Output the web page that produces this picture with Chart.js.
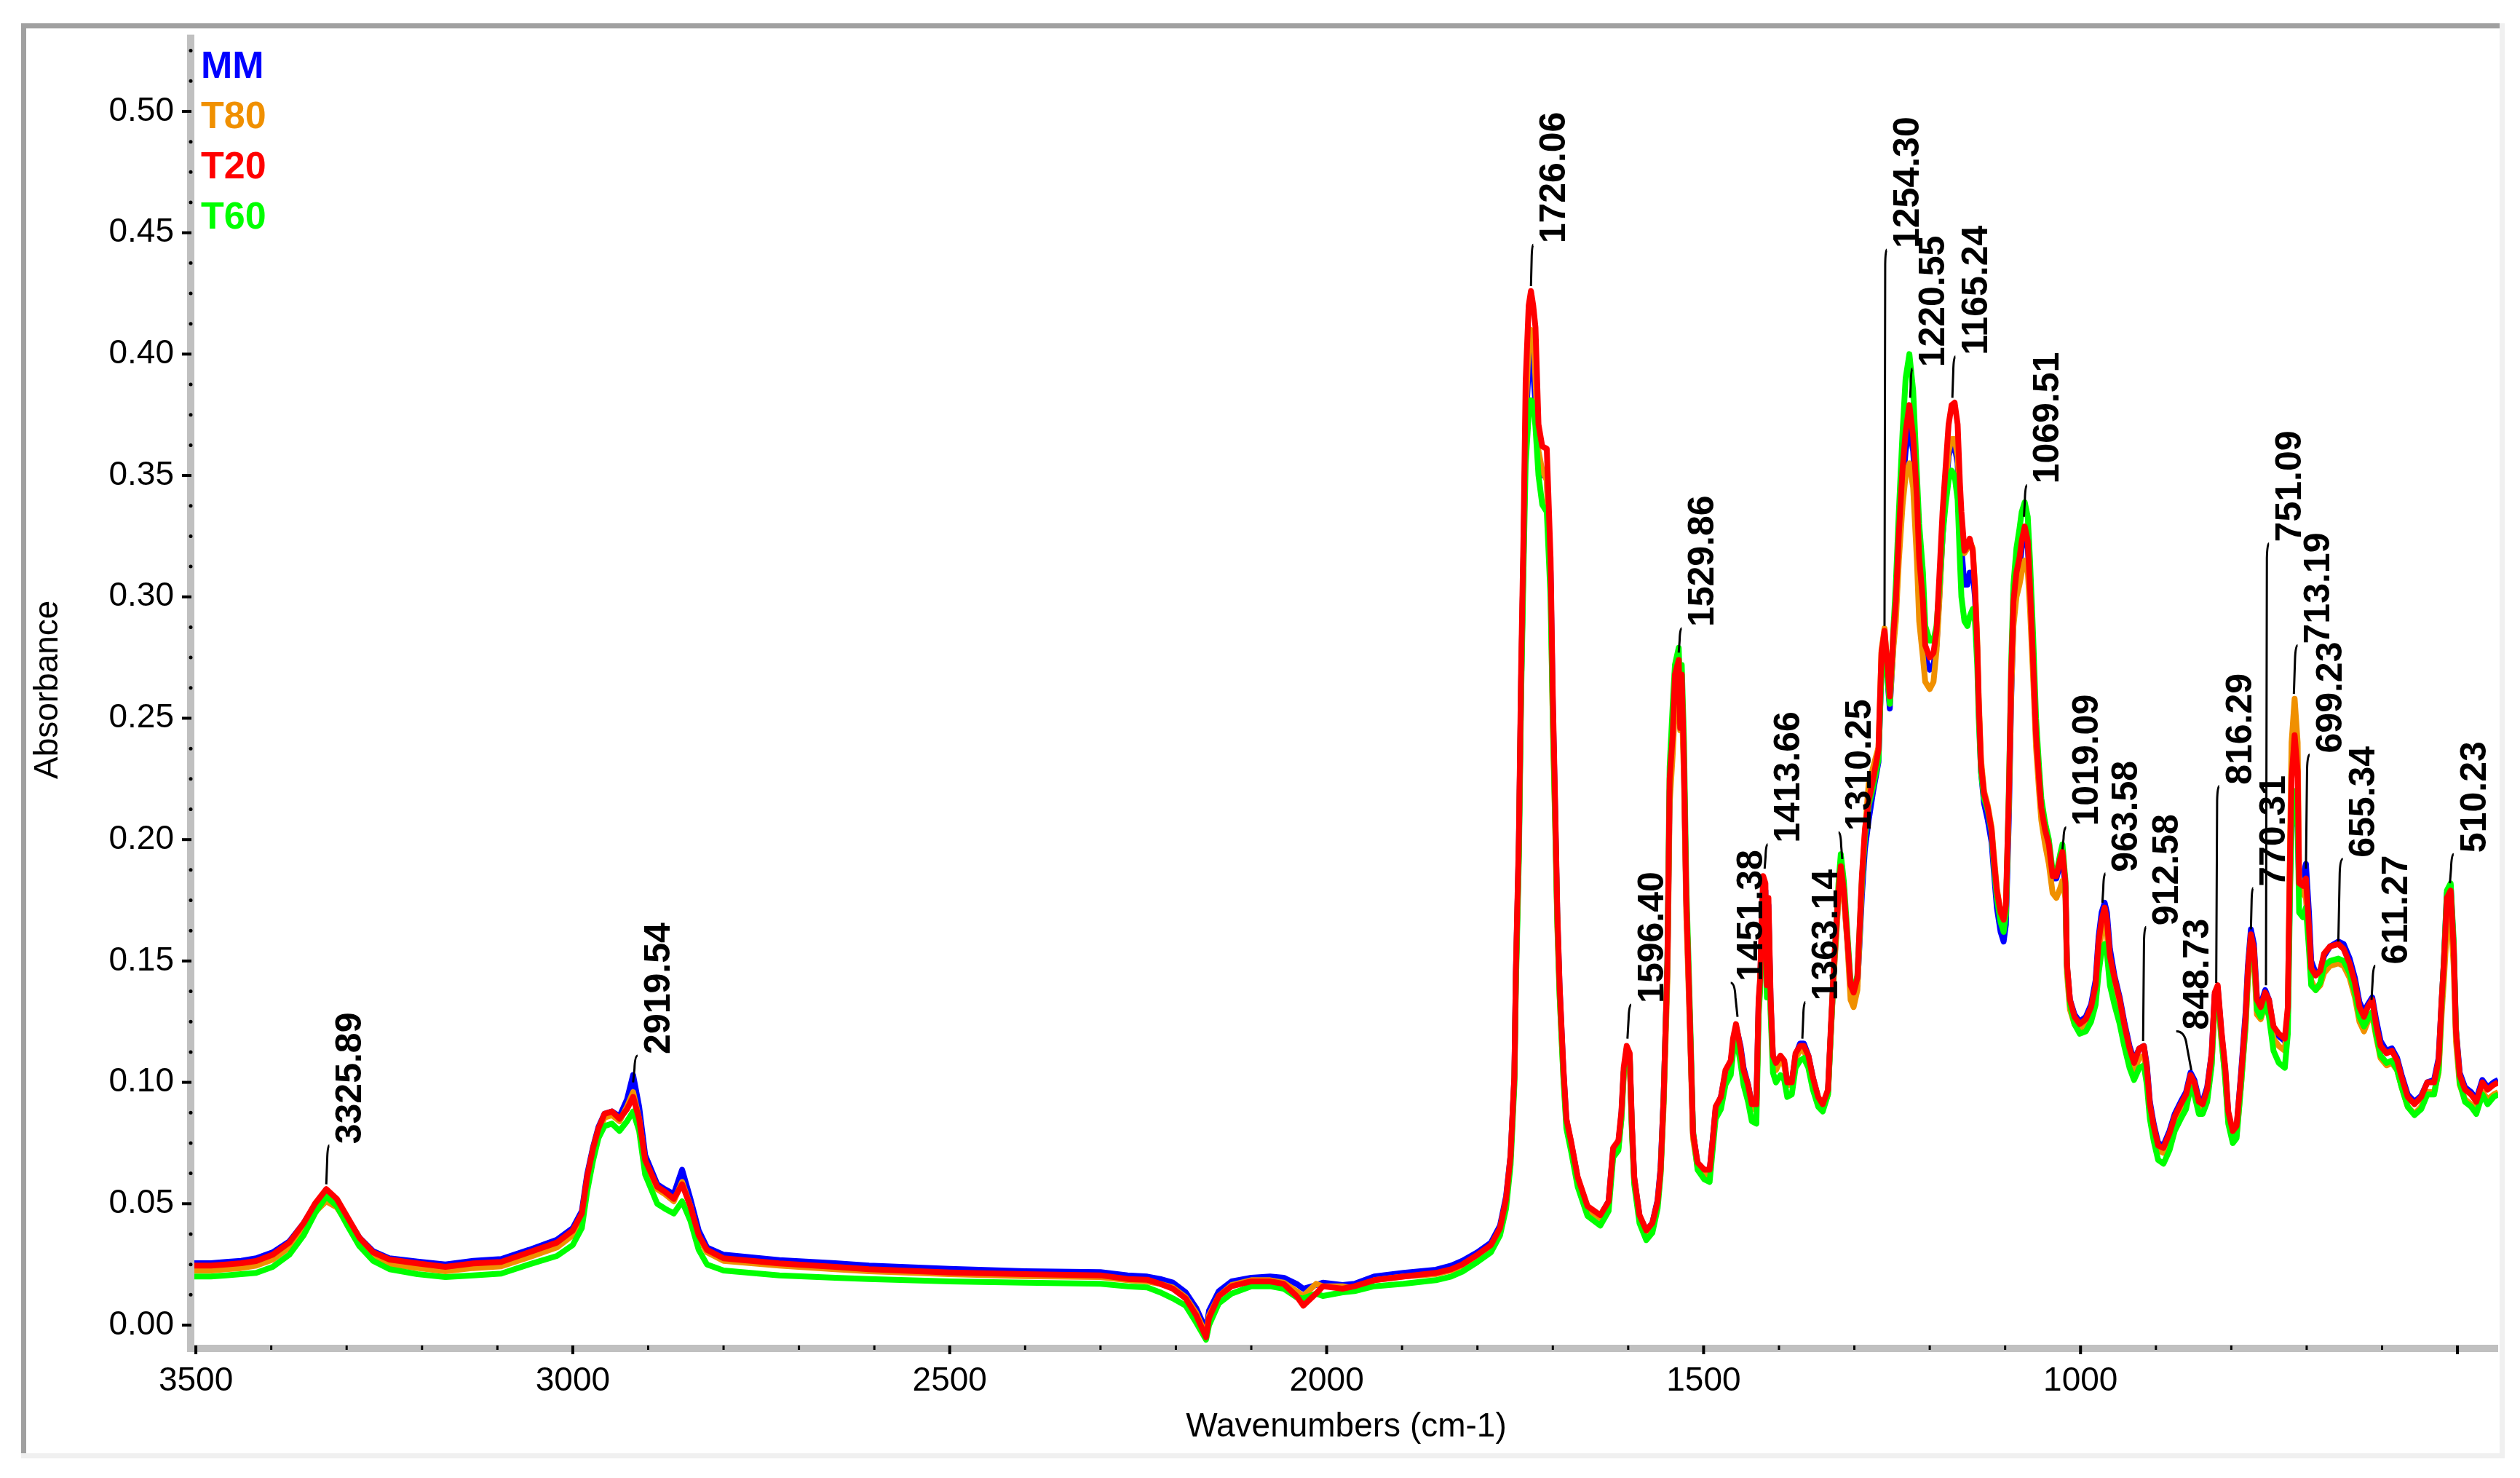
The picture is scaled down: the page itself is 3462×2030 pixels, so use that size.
<!DOCTYPE html>
<html>
<head>
<meta charset="utf-8">
<title>FTIR spectra</title>
<script src="https://cdn.jsdelivr.net/npm/chart.js@4.4.1/dist/chart.umd.min.js"></script>
<style>
  html, body { margin: 0; padding: 0; background: #fff; }
  #wrap { width: 3462px; height: 2030px; }
</style>
</head>
<body>
<div id="wrap"><canvas id="ftir_chart" width="3462" height="2030"></canvas></div>
<script>
// wavenumbers (cm-1), shared by all four spectra
const wavenumbers = [
  3502,3480,3460,3440,3420,3398,3376,3357,3342,3327,
  3313,3298,3283,3265,3243,3206,3169,3132,3095,3058,
  3021,3000,2988,2981,2973,2966,2958,2948,2938,2928,
  2920,2912,2904,2888,2878,2866,2855,2844,2833,2822,
  2800,2726,2652,2607,2500,2400,2300,2264,2238,2221,
  2204,2187,2173,2160,2156,2143,2126,2100,2075,2057,
  2040,2031,2014,2005,1979,1963,1937,1898,1855,1835,
  1820,1800,1782,1770,1762,1756,1751,1749,1745,1742,
  1739,1736,1732,1729,1726,1723,1719,1714,1708,1703,
  1700,1697,1694,1691,1686,1682,1676,1667,1654,1637,
  1626,1620,1613,1609,1606,1602,1598,1595,1592,1585,
  1576,1568,1561,1557,1553,1548,1545,1541,1538,1533,
  1531,1529,1526,1523,1518,1514,1508,1499,1492,1488,
  1484,1477,1471,1464,1461,1457,1451,1447,1441,1436,
  1430,1427,1425,1421,1418,1416,1414,1411,1408,1404,
  1398,1393,1389,1383,1378,1372,1367,1361,1355,1348,
  1342,1335,1331,1327,1324,1321,1318,1314,1309,1305,
  1301,1296,1293,1290,1286,1281,1275,1268,1264,1260,
  1256,1253,1248,1245,1241,1236,1232,1227,1222,1217,
  1214,1209,1206,1200,1195,1191,1187,1183,1179,1175,
  1171,1167,1163,1160,1158,1154,1150,1147,1143,1140,
  1137,1135,1132,1128,1123,1118,1115,1111,1106,1102,
  1099,1095,1092,1089,1085,1081,1078,1074,1070,1067,
  1063,1059,1055,1052,1047,1042,1037,1032,1027,1024,
  1020,1018,1014,1008,1001,993,986,980,976,972,
  968,965,961,955,948,942,935,929,922,916,
  912,908,903,897,890,882,875,867,860,854,
  849,843,838,832,826,822,818,813,808,804,
  798,793,787,781,778,774,770,766,761,755,
  750,744,737,729,725,722,720,716,712,710,
  705,701,697,694,688,682,677,669,658,651,
  643,636,630,624,619,613,608,602,594,587,
  580,574,566,557,548,540,531,525,521,518,
  514,509,505,502,497,490,482,475,467,460,
  452,446
];

const mmValues = [
  .0255,.0255,.0260,.0265,.0275,.0300,.0345,.0420,.0495,.0550,
  .0515,.0435,.0360,.0305,.0275,.0262,.0250,.0265,.0272,.0310,
  .0352,.0400,.0470,.0620,.0735,.0815,.0870,.0880,.0860,.0930,
  .1030,.0900,.0700,.0580,.0560,.0540,.0640,.0520,.0390,.0320,
  .0290,.0268,.0255,.0245,.0232,.0222,.0218,.0205,.0200,.0190,
  .0175,.0135,.0070,-.0020,.0060,.0140,.0180,.0195,.0200,.0195,
  .0170,.0150,.0165,.0175,.0165,.0170,.0200,.0215,.0228,.0245,
  .0265,.0300,.0340,.0410,.0530,.0700,.1020,.1440,.1980,.2650,
  .3150,.3700,.3950,.4000,.3920,.3800,.3550,.3500,.3500,.3100,
  .2550,.2130,.1680,.1390,.1050,.0845,.0755,.0605,.0485,.0450,
  .0510,.0720,.0750,.0870,.1040,.1130,.1100,.0810,.0605,.0450,
  .0390,.0420,.0515,.0650,.0940,.1470,.2200,.2400,.2620,.2700,
  .2500,.2620,.2300,.1750,.1230,.0790,.0665,.0635,.0635,.0760,
  .0890,.0940,.1040,.1080,.1160,.1230,.1150,.1060,.0990,.0910,
  .0905,.1320,.1410,.1820,.1790,.1380,.1730,.1320,.1100,.1070,
  .1100,.1080,.1000,.1000,.1110,.1160,.1160,.1110,.1020,.0935,
  .0905,.0960,.1220,.1470,.1620,.1770,.1870,.1780,.1570,.1390,
  .1360,.1400,.1580,.1770,.1960,.2080,.2200,.2320,.2720,.2800,
  .2660,.2540,.2820,.2940,.3200,.3450,.3600,.3700,.3600,.3350,
  .3100,.2920,.2750,.2700,.2720,.2800,.3020,.3250,.3420,.3580,
  .3620,.3620,.3550,.3320,.3200,.3050,.3050,.3100,.3100,.3000,
  .2780,.2540,.2280,.2150,.2080,.1990,.1870,.1720,.1620,.1580,
  .1650,.2100,.2580,.2900,.3050,.3120,.3200,.3260,.3210,.3020,
  .2720,.2420,.2250,.2130,.2030,.1960,.1840,.1840,.1900,.1930,
  .1800,.1480,.1340,.1280,.1250,.1270,.1320,.1420,.1600,.1700,
  .1740,.1700,.1550,.1440,.1350,.1250,.1150,.1090,.1140,.1150,
  .1070,.0920,.0830,.0750,.0740,.0800,.0870,.0920,.0960,.1040,
  .1010,.0930,.0920,.0980,.1120,.1360,.1390,.1200,.1050,.0870,
  .0790,.0810,.1040,.1290,.1480,.1630,.1570,.1350,.1320,.1380,
  .1340,.1220,.1190,.1170,.1280,.1850,.2100,.2150,.2050,.1800,
  .1850,.1900,.1700,.1500,.1450,.1460,.1520,.1560,.1580,.1570,
  .1510,.1430,.1330,.1290,.1320,.1350,.1260,.1170,.1130,.1140,
  .1100,.1030,.0950,.0920,.0945,.1000,.1010,.1100,.1330,.1500,
  .1780,.1810,.1560,.1220,.1040,.0980,.0960,.0930,.1010,.0980,
  .1000,.1010
];

const t80Values = [
  .0225,.0225,.0230,.0235,.0245,.0270,.0320,.0390,.0465,.0510,
  .0485,.0415,.0340,.0280,.0250,.0235,.0222,.0235,.0242,.0280,
  .0320,.0370,.0440,.0590,.0710,.0795,.0855,.0865,.0840,.0900,
  .0960,.0850,.0670,.0560,.0540,.0510,.0590,.0490,.0360,.0300,
  .0265,.0245,.0230,.0222,.0210,.0202,.0198,.0185,.0180,.0170,
  .0155,.0115,.0050,-.0040,.0040,.0120,.0165,.0185,.0185,.0175,
  .0140,.0120,.0170,.0160,.0160,.0150,.0185,.0200,.0210,.0225,
  .0245,.0285,.0325,.0395,.0510,.0690,.1010,.1430,.1970,.2650,
  .3150,.3750,.4050,.4100,.4080,.3900,.3600,.3520,.3480,.3050,
  .2480,.2080,.1640,.1360,.1030,.0830,.0745,.0595,.0478,.0440,
  .0500,.0700,.0730,.0850,.1020,.1120,.1090,.0800,.0595,.0440,
  .0380,.0410,.0500,.0630,.0900,.1420,.2150,.2350,.2550,.2620,
  .2450,.2580,.2250,.1700,.1200,.0770,.0650,.0620,.0620,.0740,
  .0880,.0920,.1030,.1070,.1150,.1210,.1120,.1030,.0970,.0890,
  .0890,.1300,.1400,.1800,.1770,.1370,.1710,.1300,.1080,.1050,
  .1090,.1070,.0990,.0990,.1100,.1130,.1130,.1090,.1000,.0920,
  .0890,.0950,.1210,.1460,.1600,.1760,.1860,.1770,.1560,.1340,
  .1310,.1380,.1600,.1820,.2030,.2230,.2300,.2380,.2780,.2870,
  .2700,.2560,.2800,.2900,.3150,.3380,.3500,.3550,.3450,.3150,
  .2900,.2750,.2650,.2620,.2650,.2780,.3000,.3250,.3450,.3600,
  .3650,.3650,.3580,.3400,.3300,.3180,.3200,.3230,.3200,.3050,
  .2820,.2580,.2330,.2200,.2140,.2050,.1940,.1800,.1700,.1650,
  .1700,.2150,.2600,.2880,.3000,.3050,.3100,.3150,.3110,.2950,
  .2680,.2380,.2200,.2080,.1980,.1900,.1780,.1760,.1800,.1830,
  .1760,.1450,.1300,.1240,.1210,.1230,.1280,.1370,.1530,.1620,
  .1650,.1610,.1470,.1380,.1300,.1200,.1100,.1050,.1100,.1110,
  .1030,.0890,.0800,.0720,.0710,.0770,.0840,.0890,.0920,.1000,
  .0970,.0880,.0880,.0940,.1080,.1330,.1360,.1170,.1020,.0840,
  .0760,.0780,.0990,.1230,.1420,.1560,.1500,.1280,.1260,.1320,
  .1280,.1180,.1150,.1130,.1300,.2000,.2400,.2580,.2400,.1850,
  .1780,.1760,.1580,.1420,.1380,.1400,.1450,.1480,.1490,.1480,
  .1430,.1350,.1250,.1210,.1250,.1280,.1190,.1100,.1070,.1080,
  .1050,.0980,.0900,.0870,.0900,.0960,.0960,.1040,.1280,.1420,
  .1640,.1680,.1480,.1170,.0990,.0930,.0910,.0890,.0960,.0930,
  .0950,.0960
];

const t20Values = [
  .0245,.0245,.0250,.0255,.0264,.0290,.0340,.0420,.0500,.0560,
  .0520,.0440,.0360,.0300,.0270,.0254,.0240,.0254,.0260,.0300,
  .0340,.0390,.0460,.0610,.0730,.0810,.0870,.0880,.0850,.0890,
  .0940,.0850,.0680,.0570,.0550,.0520,.0580,.0490,.0370,.0310,
  .0275,.0254,.0240,.0230,.0217,.0210,.0205,.0190,.0187,.0170,
  .0150,.0110,.0040,-.0050,.0030,.0120,.0160,.0180,.0180,.0170,
  .0120,.0080,.0130,.0160,.0150,.0160,.0185,.0200,.0215,.0230,
  .0250,.0290,.0330,.0400,.0520,.0700,.1030,.1460,.2010,.2710,
  .3230,.3890,.4200,.4260,.4200,.4110,.3710,.3620,.3610,.3160,
  .2590,.2160,.1700,.1400,.1060,.0850,.0760,.0610,.0490,.0453,
  .0510,.0730,.0760,.0880,.1060,.1150,.1120,.0820,.0610,.0453,
  .0390,.0420,.0510,.0640,.0940,.1490,.2250,.2430,.2680,.2740,
  .2460,.2680,.2310,.1760,.1240,.0790,.0670,.0640,.0640,.0760,
  .0900,.0940,.1050,.1090,.1180,.1240,.1140,.1050,.0990,.0910,
  .0910,.1340,.1430,.1850,.1820,.1400,.1760,.1340,.1110,.1080,
  .1110,.1090,.1000,.1000,.1120,.1150,.1150,.1110,.1020,.0940,
  .0910,.0970,.1240,.1490,.1640,.1790,.1890,.1790,.1580,.1400,
  .1370,.1430,.1640,.1850,.2040,.2160,.2250,.2370,.2770,.2860,
  .2710,.2590,.2860,.2980,.3260,.3530,.3680,.3790,.3660,.3410,
  .3160,.2980,.2800,.2750,.2770,.2860,.3100,.3350,.3530,.3710,
  .3790,.3800,.3710,.3470,.3350,.3190,.3210,.3240,.3190,.3040,
  .2800,.2560,.2310,.2190,.2130,.2040,.1920,.1790,.1700,.1670,
  .1730,.2190,.2680,.2980,.3100,.3160,.3230,.3290,.3230,.3040,
  .2740,.2430,.2250,.2130,.2040,.1980,.1850,.1850,.1920,.1950,
  .1820,.1490,.1340,.1270,.1240,.1260,.1310,.1400,.1580,.1670,
  .1720,.1670,.1520,.1430,.1340,.1240,.1140,.1080,.1140,.1150,
  .1060,.0910,.0820,.0740,.0730,.0790,.0860,.0910,.0950,.1030,
  .1000,.0920,.0910,.0970,.1120,.1370,.1400,.1210,.1060,.0880,
  .0800,.0820,.1030,.1270,.1460,.1610,.1550,.1340,.1310,.1370,
  .1340,.1230,.1200,.1180,.1310,.1950,.2250,.2430,.2280,.1820,
  .1810,.1840,.1640,.1470,.1440,.1460,.1530,.1560,.1570,.1550,
  .1490,.1410,.1310,.1270,.1310,.1340,.1240,.1150,.1120,.1130,
  .1090,.1020,.0940,.0910,.0940,.1000,.1000,.1090,.1340,.1490,
  .1760,.1790,.1550,.1210,.1030,.0970,.0950,.0920,.1000,.0970,
  .0990,.1000
];

const t60Values = [
  .0200,.0200,.0205,.0210,.0215,.0240,.0290,.0370,.0460,.0530,
  .0490,.0405,.0325,.0265,.0230,.0210,.0198,.0205,.0212,.0250,
  .0285,.0330,.0400,.0550,.0680,.0770,.0820,.0830,.0800,.0840,
  .0880,.0800,.0620,.0500,.0480,.0460,.0510,.0430,.0310,.0250,
  .0225,.0205,.0195,.0190,.0180,.0175,.0170,.0160,.0155,.0135,
  .0110,.0080,.0010,-.0060,.0000,.0090,.0130,.0160,.0160,.0150,
  .0115,.0110,.0130,.0120,.0135,.0140,.0160,.0170,.0185,.0200,
  .0220,.0260,.0300,.0370,.0480,.0660,.0990,.1400,.1930,.2600,
  .3100,.3550,.3750,.3810,.3800,.3700,.3500,.3380,.3350,.3000,
  .2500,.2100,.1660,.1360,.1020,.0810,.0720,.0570,.0450,.0410,
  .0470,.0690,.0720,.0850,.1040,.1140,.1110,.0790,.0580,.0420,
  .0350,.0380,.0480,.0620,.0930,.1500,.2300,.2550,.2720,.2790,
  .2600,.2720,.2400,.1820,.1280,.0800,.0640,.0600,.0590,.0720,
  .0850,.0890,.0990,.1030,.1120,.1190,.1080,.0990,.0920,.0840,
  .0830,.1280,.1380,.1780,.1750,.1350,.1700,.1280,.1040,.1000,
  .1030,.1010,.0940,.0950,.1060,.1090,.1100,.1060,.0970,.0900,
  .0880,.0950,.1220,.1480,.1640,.1820,.1940,.1830,.1600,.1410,
  .1380,.1440,.1630,.1830,.2010,.2140,.2220,.2330,.2700,.2780,
  .2660,.2560,.2880,.3050,.3350,.3680,.3900,.4000,.3850,.3500,
  .3300,.3100,.2880,.2820,.2820,.2880,.3050,.3250,.3380,.3480,
  .3520,.3500,.3400,.3150,.3000,.2900,.2880,.2920,.2950,.2900,
  .2720,.2500,.2280,.2170,.2120,.2030,.1900,.1760,.1660,.1620,
  .1690,.2200,.2720,.3050,.3200,.3280,.3350,.3390,.3330,.3150,
  .2850,.2500,.2300,.2170,.2070,.2000,.1870,.1860,.1940,.1980,
  .1830,.1480,.1320,.1240,.1200,.1210,.1250,.1320,.1450,.1540,
  .1570,.1530,.1400,.1320,.1240,.1150,.1060,.1010,.1060,.1070,
  .0990,.0850,.0760,.0680,.0665,.0720,.0800,.0850,.0890,.0980,
  .0950,.0870,.0870,.0920,.1070,.1340,.1380,.1180,.1010,.0830,
  .0750,.0770,.0990,.1240,.1440,.1600,.1540,.1300,.1270,.1330,
  .1270,.1130,.1080,.1060,.1200,.1800,.2050,.2200,.2100,.1700,
  .1680,.1720,.1550,.1400,.1380,.1410,.1480,.1500,.1510,.1500,
  .1450,.1370,.1270,.1230,.1260,.1290,.1200,.1110,.1080,.1090,
  .1050,.0980,.0900,.0865,.0890,.0950,.0950,.1050,.1320,.1500,
  .1790,.1820,.1580,.1220,.1000,.0920,.0900,.0870,.0950,.0910,
  .0940,.0950
];

const seriesLabels = ["MM", "T80", "T20", "T60"];
const seriesColors = ["#0000ff", "#f09000", "#ff0000", "#00ff00"];
const seriesValues = [mmValues, t80Values, t20Values, t60Values];
const drawOrder = [3, 2, 0, 1]; // T20 on top, MM underneath

const yTickValues = [0, 0.05, 0.10, 0.15, 0.20, 0.25, 0.30, 0.35, 0.40, 0.45, 0.50];
const xTickValues = [3500, 3000, 2500, 2000, 1500, 1000];

// peak annotations: text, leader start (wn, abs), leader end / text foot (wn, abs)
const peakLabels = ["3325.89","2919.54","1726.06","1596.40","1529.86","1451.38","1413.66",
  "1363.14","1310.25","1254.30","1220.55","1165.24","1069.51","1019.09","963.58","912.58",
  "848.73","816.29","770.31","751.09","713.19","699.23","655.34","611.27","510.23"];
const peakBase = [[3327,0.058],[2920,0.100],[1729,0.428],[1601,0.118],[1533,0.277],
  [1455,0.127],[1419,0.188],[1369,0.118],[1316,0.192],[1260,0.288],[1226,0.382],
  [1170,0.382],[1075,0.333],[1024,0.196],[971,0.174],[917,0.117],[853,0.105],
  [820,0.141],[774,0.163],[754,0.140],[717,0.260],[701,0.188],[658,0.158],
  [614,0.134],[510,0.182]];
const peakTip = [[3323,0.074],[2914,0.111],[1726,0.445],[1596,0.132],[1529,0.287],
  [1464,0.141],[1415,0.198],[1365,0.133],[1321,0.203],[1257,0.443],[1223,0.394],
  [1166,0.399],[1071,0.346],[1019,0.205],[967,0.186],[913,0.164],[873,0.121],
  [816,0.222],[771,0.180],[750,0.322],[712,0.280],[696,0.235],[652,0.192],
  [609,0.148],[505,0.194]];

const FONT = '"Liberation Sans", Arial, Helvetica, sans-serif';

const peakLabelPlugin = {
  id: "peakLabels",
  afterDatasetsDraw(chart) {
    const ctx = chart.ctx;
    const xs = chart.scales.x, ys = chart.scales.y;
    ctx.save();
    ctx.strokeStyle = "#000";
    ctx.fillStyle = "#000";
    ctx.lineWidth = 3;
    ctx.font = "bold 50px " + FONT;
    peakLabels.forEach((text, i) => {
      const x0 = xs.getPixelForValue(peakBase[i][0]);
      const y0 = ys.getPixelForValue(peakBase[i][1]);
      const x1 = xs.getPixelForValue(peakTip[i][0]);
      const y1 = ys.getPixelForValue(peakTip[i][1]);
      const ym = y1 + Math.min(20, (y0 - y1) / 2);
      ctx.beginPath();
      ctx.moveTo(x0, y0);
      ctx.lineTo(x0 + (x1 - x0) * 0.3, ym);
      ctx.quadraticCurveTo(x0 + (x1 - x0) * 0.4, y1, x1, y1);
      ctx.stroke();
      ctx.save();
      ctx.translate(x1 + 30, y1 - 2);
      ctx.rotate(-Math.PI / 2);
      ctx.textAlign = "left";
      ctx.textBaseline = "middle";
      ctx.fillText(text, 0, 0);
      ctx.restore();
    });
    ctx.restore();
  }
};

const framePlugin = {
  id: "frame",
  afterDraw(chart) {
    const ctx = chart.ctx;
    const area = chart.chartArea;
    const xs = chart.scales.x, ys = chart.scales.y;
    ctx.save();
    // sunken outer border
    ctx.fillStyle = "#a0a0a0";
    ctx.fillRect(29, 32, 3412, 7);
    ctx.fillRect(29, 32, 7, 1964);
    ctx.fillStyle = "#f0f0f0";
    ctx.fillRect(29, 1996, 3412, 7);
    ctx.fillRect(3434, 32, 7, 1971);

    // grey axis bars
    ctx.fillStyle = "#c0c0c0";
    ctx.fillRect(area.left - 10, area.top, 10, area.bottom - area.top + 10);
    ctx.fillRect(area.left - 10, area.bottom, area.right - area.left + 10, 10);

    // y ticks: majors every 0.05, dots every 0.0125
    ctx.fillStyle = "#000";
    for (let k = 0; k <= 42; k++) {
      const v = k * 0.0125;
      const py = ys.getPixelForValue(v);
      if (k % 4 === 0) {
        ctx.fillRect(area.left - 17, py - 2, 13, 4);
      } else {
        ctx.beginPath();
        ctx.arc(area.left - 5, py, 2.5, 0, Math.PI * 2);
        ctx.fill();
      }
    }
    // x ticks: majors every 500, minors every 100
    for (let v = 500; v <= 3500; v += 100) {
      const px = xs.getPixelForValue(v);
      if (v % 500 === 0) {
        ctx.fillRect(px - 2, area.bottom + 1, 4, 12);
      } else {
        ctx.fillRect(px - 1.5, area.bottom + 1, 3, 6);
      }
    }

    // axis titles
    ctx.font = "46px " + FONT;
    ctx.textAlign = "center";
    ctx.textBaseline = "middle";
    ctx.fillText("Wavenumbers (cm-1)", (area.left + area.right) / 2, 1960);
    ctx.save();
    ctx.translate(66, (area.top + area.bottom) / 2);
    ctx.rotate(-Math.PI / 2);
    ctx.fillText("Absorbance", 0, 0);
    ctx.restore();

    // legend as coloured text
    ctx.font = "bold 52px " + FONT;
    ctx.textAlign = "left";
    ctx.textBaseline = "alphabetic";
    seriesLabels.forEach((name, i) => {
      ctx.fillStyle = seriesColors[i];
      ctx.fillText(name, area.left + 9, area.top + 59 + i * 69);
    });
    ctx.restore();
  }
};

const ctx = document.getElementById("ftir_chart").getContext("2d");

const configuration = {
  type: "line",
  data: {
    datasets: seriesLabels.map((name, i) => ({
      label: name,
      data: wavenumbers.map((w, j) => ({ x: w, y: seriesValues[i][j] })),
      borderColor: seriesColors[i],
      backgroundColor: seriesColors[i],
      borderWidth: 8,
      borderJoinStyle: "round",
      pointRadius: 0,
      fill: false,
      tension: 0,
      order: drawOrder[i],
    })),
  },
  options: {
    responsive: false,
    devicePixelRatio: 1,
    animation: false,
    events: [],
    layout: { padding: { top: 39, right: 30, left: 0, bottom: 0 } },
    plugins: { legend: { display: false }, tooltip: { enabled: false } },
    scales: {
      x: {
        type: "linear",
        reverse: true,
        min: 446,
        max: 3502,
        grid: { display: false },
        border: { display: false },
        ticks: {
          font: { family: FONT, size: 46 },
          color: "#000",
          padding: 15,
          maxRotation: 0,
          callback: (v) => String(v),
        },
        afterBuildTicks: (scale) => { scale.ticks = xTickValues.map((v) => ({ value: v })); },
        afterFit: (scale) => { scale.height = 183; },
      },
      y: {
        type: "linear",
        min: -0.0081,
        max: 0.5316,
        grid: { display: false },
        border: { display: false },
        ticks: {
          font: { family: FONT, size: 46 },
          color: "#000",
          padding: 20,
          callback: (v) => Number(v).toFixed(2),
        },
        afterBuildTicks: (scale) => { scale.ticks = yTickValues.map((v) => ({ value: v })); },
        afterFit: (scale) => { scale.width = 267; },
      },
    },
  },
  plugins: [peakLabelPlugin, framePlugin],
};

const chart = new Chart(ctx, configuration);
</script>
</body>
</html>
